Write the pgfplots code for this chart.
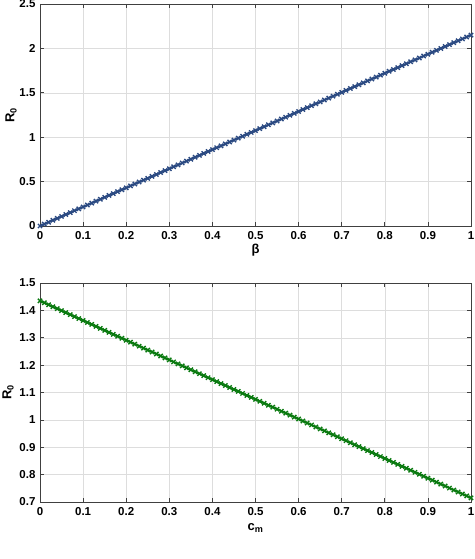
\documentclass[border=0pt]{standalone}
\usepackage{fontspec}
\setmainfont{Liberation Sans}
\usepackage{pgfplots}
\usepackage{pgfplotstable}
\pgfplotsset{compat=1.18}
\definecolor{lineblue}{HTML}{2B4A82}
\definecolor{linegreen}{HTML}{0A7A10}
\definecolor{axgray}{HTML}{404040}
\definecolor{gridgray}{HTML}{DDDDDD}
\pgfplotstableread{
x y
0 0
0.01 0.0215
0.02 0.043
0.03 0.0645
0.04 0.086
0.05 0.1075
0.06 0.129
0.07 0.1505
0.08 0.172
0.09 0.1935
0.10 0.215
0.11 0.2365
0.12 0.258
0.13 0.2795
0.14 0.301
0.15 0.3225
0.16 0.344
0.17 0.3655
0.18 0.387
0.19 0.4085
0.20 0.43
0.21 0.4515
0.22 0.473
0.23 0.4945
0.24 0.516
0.25 0.5375
0.26 0.559
0.27 0.5805
0.28 0.602
0.29 0.6235
0.30 0.645
0.31 0.6665
0.32 0.688
0.33 0.7095
0.34 0.731
0.35 0.7525
0.36 0.774
0.37 0.7955
0.38 0.817
0.39 0.8385
0.40 0.86
0.41 0.8815
0.42 0.903
0.43 0.9245
0.44 0.946
0.45 0.9675
0.46 0.989
0.47 1.0105
0.48 1.032
0.49 1.0535
0.50 1.075
0.51 1.0965
0.52 1.118
0.53 1.1395
0.54 1.161
0.55 1.1825
0.56 1.204
0.57 1.2255
0.58 1.247
0.59 1.2685
0.60 1.29
0.61 1.3115
0.62 1.333
0.63 1.3545
0.64 1.376
0.65 1.3975
0.66 1.419
0.67 1.4405
0.68 1.462
0.69 1.4835
0.70 1.505
0.71 1.5265
0.72 1.548
0.73 1.5695
0.74 1.591
0.75 1.6125
0.76 1.634
0.77 1.6555
0.78 1.677
0.79 1.6985
0.80 1.72
0.81 1.7415
0.82 1.763
0.83 1.7845
0.84 1.806
0.85 1.8275
0.86 1.849
0.87 1.8705
0.88 1.892
0.89 1.9135
0.90 1.935
0.91 1.9565
0.92 1.978
0.93 1.9995
0.94 2.021
0.95 2.0425
0.96 2.064
0.97 2.0855
0.98 2.107
0.99 2.1285
1.00 2.15
}\betadata
\pgfplotstableread{
x y
0 1.435
0.01 1.4278
0.02 1.4206
0.03 1.4134
0.04 1.4062
0.05 1.399
0.06 1.3918
0.07 1.3846
0.08 1.3774
0.09 1.3702
0.10 1.363
0.11 1.3558
0.12 1.3486
0.13 1.3414
0.14 1.3342
0.15 1.327
0.16 1.3198
0.17 1.3126
0.18 1.3054
0.19 1.2982
0.20 1.291
0.21 1.2838
0.22 1.2766
0.23 1.2694
0.24 1.2622
0.25 1.255
0.26 1.2478
0.27 1.2406
0.28 1.2334
0.29 1.2262
0.30 1.219
0.31 1.2118
0.32 1.2046
0.33 1.1974
0.34 1.1902
0.35 1.183
0.36 1.1758
0.37 1.1686
0.38 1.1614
0.39 1.1542
0.40 1.147
0.41 1.1398
0.42 1.1326
0.43 1.1254
0.44 1.1182
0.45 1.111
0.46 1.1038
0.47 1.0966
0.48 1.0894
0.49 1.0822
0.50 1.075
0.51 1.0678
0.52 1.0606
0.53 1.0534
0.54 1.0462
0.55 1.039
0.56 1.0318
0.57 1.0246
0.58 1.0174
0.59 1.0102
0.60 1.003
0.61 0.9958
0.62 0.9886
0.63 0.9814
0.64 0.9742
0.65 0.967
0.66 0.9598
0.67 0.9526
0.68 0.9454
0.69 0.9382
0.70 0.931
0.71 0.9238
0.72 0.9166
0.73 0.9094
0.74 0.9022
0.75 0.895
0.76 0.8878
0.77 0.8806
0.78 0.8734
0.79 0.8662
0.80 0.859
0.81 0.8518
0.82 0.8446
0.83 0.8374
0.84 0.8302
0.85 0.823
0.86 0.8158
0.87 0.8086
0.88 0.8014
0.89 0.7942
0.90 0.787
0.91 0.7798
0.92 0.7726
0.93 0.7654
0.94 0.7582
0.95 0.751
0.96 0.7438
0.97 0.7366
0.98 0.7294
0.99 0.7222
1.00 0.715
}\cmdata
\pgfplotsset{
  mystyle/.style={
    scale only axis,
    width=431pt,
    xmin=0, xmax=1,
    xtick={0,0.1,...,1.0},
    tick align=inside,
    major tick length=4pt,
    grid=major,
    major grid style={gridgray, line width=0.5pt},
    axis line style={axgray, line width=0.7pt},
    tick style={axgray, line width=0.7pt},
    every tick label/.append style={font=\fontsize{11.5}{13}\selectfont\bfseries, text=black},
    /pgf/number format/assume math mode=true,
    /pgf/number format/fixed,
    /pgf/number format/precision=1,
    label style={font=\fontsize{13}{15}\selectfont\bfseries},
    xticklabel style={yshift=-2pt},
    yticklabel style={xshift=-1pt},
  }
}
\begin{document}
\begin{tikzpicture}
\useasboundingbox (0,0) rectangle (474pt,559pt);
\begin{axis}[mystyle,
  at={(40pt,333pt)}, anchor=south west,
  height=222pt,
  ymin=0, ymax=2.5,
  ytick={0,0.5,1,1.5,2,2.5},
  xlabel={β},
  ylabel={R\textsubscript{0}},
  xlabel style={yshift=2pt},
  ylabel style={yshift=-4pt},
]
\addplot[color=lineblue, line width=2pt, mark=x, mark size=3pt, mark options={line width=1.4pt}] table[x=x,y=y] {\betadata};
\end{axis}
\begin{axis}[mystyle,
  at={(40pt,57pt)}, anchor=south west,
  height=219pt,
  ymin=0.7, ymax=1.5,
  ytick={0.7,0.8,0.9,1,1.1,1.2,1.3,1.4,1.5},
  xlabel={c\textsubscript{m}},
  ylabel={R\textsubscript{0}},
  xlabel style={yshift=-1pt},
  ylabel style={yshift=-1pt},
]
\addplot[color=linegreen, line width=2pt, mark=x, mark size=3pt, mark options={line width=1.4pt}] table[x=x,y=y] {\cmdata};
\end{axis}
\end{tikzpicture}
\end{document}
